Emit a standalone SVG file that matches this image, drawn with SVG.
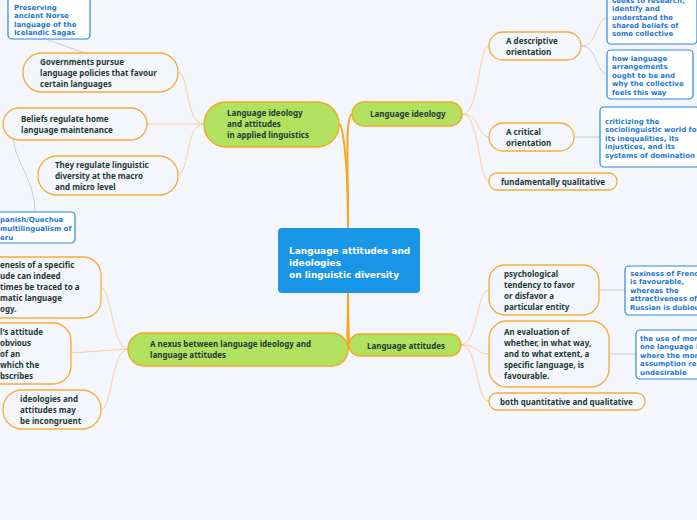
<svg xmlns="http://www.w3.org/2000/svg" width="697" height="520" viewBox="0 0 697 520">
<style>
.o{fill:#f4f6fd;stroke:#f8ab38;stroke-width:1.3}
.g{fill:#b2e05f;stroke:#f5a623;stroke-width:1.3}
.b{fill:#fff;stroke:#2a85e0;stroke-width:1.2}
.t{font-family:"Noto Sans","DejaVu Sans",sans-serif;font-size:8px;font-weight:bold;fill:#1c3b34}
.bt{font-family:"DejaVu Sans",sans-serif;font-size:7px;font-weight:bold;fill:#1f78d1}
.ct{font-family:"DejaVu Sans",sans-serif;font-size:9px;font-weight:bold;fill:#fff}
.m{fill:none;stroke:#f5a623;stroke-width:2}
.c{fill:none;stroke:#fbd095;stroke-width:1}
.gr{fill:none;stroke:#c9ccd6;stroke-width:1}
</style>
<rect width="697" height="520" fill="#f4f6fd"/>
<g id="connectors">
<path class="m" d="M348 228 C348 160 345 118 352 114"/>
<path class="m" d="M348 228 C348 160 343 126 339 124"/>
<path class="m" d="M348 293 C348 330 346 345 349 345"/>
<path class="m" d="M348 293 C348 330 350 349 348 349"/>
<path class="c" d="M204 124 C185 124 190 75 178 72"/>
<path class="c" d="M204 124 L147 124"/>
<path class="c" d="M204 124 C185 124 190 172 178 175"/>
<path class="c" d="M128 349 C112 349 112 290 101 287"/>
<path class="c" d="M128 349 L71 353"/>
<path class="c" d="M128 349 C112 349 112 408 101 410"/>
<path class="c" d="M462 114 C480 114 478 46 489 46"/>
<path class="c" d="M462 114 C480 114 478 137 489 137"/>
<path class="c" d="M462 114 C480 114 478 181 489 181"/>
<path class="c" d="M461 345 C478 345 476 290 489 290"/>
<path class="c" d="M461 345 C478 345 476 354 489 354"/>
<path class="c" d="M461 345 C478 345 476 401 489 401"/>
<path class="c" d="M581 46 C598 46 596 18 607 18"/>
<path class="gr" d="M581 46 C598 46 596 74 607 74"/>
<path class="gr" d="M574 137 L600 137"/>
<path class="gr" d="M599 290 L625 290"/>
<path class="gr" d="M609 354 L636 354"/>
<path class="gr" d="M48 40 L85 53"/>
<path class="gr" d="M14 140 C14 160 35 180 35 212"/>
</g>
<g id="center"><rect x="278" y="228" width="142" height="65" rx="4" fill="#1a96e8"/>
<text class="ct"><tspan x="289" y="254">Language attitudes and</tspan><tspan x="289" y="266">ideologies</tspan><tspan x="289" y="278">on linguistic diversity</tspan></text></g>
<g id="ideology"><rect class="g" x="352" y="102" width="110" height="24" rx="12"/><text class="t" x="370" y="117">Language ideology</text></g>
<g id="attitudes"><rect class="g" x="349" y="334" width="112" height="22" rx="11"/><text class="t" x="367" y="349">Language attitudes</text></g>
<g id="applied"><rect class="g" x="204" y="102" width="135" height="45" rx="22"/><text class="t"><tspan x="227" y="116">Language ideology</tspan><tspan x="227" y="127">and attitudes</tspan><tspan x="227" y="138">in applied linguistics</tspan></text></g>
<g id="nexus"><rect class="g" x="128" y="333" width="220" height="33" rx="16"/><text class="t"><tspan x="150" y="347">A nexus between language ideology and</tspan><tspan x="150" y="358">language attitudes</tspan></text></g>
<g id="gov"><rect class="o" x="23" y="53" width="155" height="39" rx="19"/><text class="t"><tspan x="40" y="65">Governments pursue</tspan><tspan x="40" y="76">language policies that favour</tspan><tspan x="40" y="87">certain languages</tspan></text></g>
<g id="beliefs"><rect class="o" x="3" y="108" width="144" height="32" rx="16"/><text class="t"><tspan x="21" y="122">Beliefs regulate home</tspan><tspan x="21" y="133">language maintenance</tspan></text></g>
<g id="regulate"><rect class="o" x="38" y="156" width="140" height="39" rx="19"/><text class="t"><tspan x="55" y="168">They regulate linguistic</tspan><tspan x="55" y="179">diversity at the macro</tspan><tspan x="55" y="190">and micro level</tspan></text></g>
<g id="norse"><rect class="b" x="8" y="-5" width="82" height="44" rx="4"/><text class="bt"><tspan x="14" y="10">Preserving</tspan><tspan x="14" y="18">ancient Norse</tspan><tspan x="14" y="27">language of the</tspan><tspan x="14" y="35">Icelandic Sagas</tspan></text></g>
<g id="peru"><rect class="b" x="-10" y="212" width="85" height="31" rx="4"/><text class="bt"><tspan x="0" y="222">panish/Quechua</tspan><tspan x="0" y="231">multilingualism of</tspan><tspan x="0" y="240">eru</tspan></text></g>
<g id="genesis"><rect class="o" x="-20" y="257" width="121" height="61" rx="18"/><text class="t"><tspan x="0" y="268">enesis of a specific</tspan><tspan x="0" y="279">ude can indeed</tspan><tspan x="0" y="290">times be traced to a</tspan><tspan x="0" y="301">matic language</tspan><tspan x="0" y="312">ogy.</tspan></text></g>
<g id="individual"><rect class="o" x="-20" y="323" width="91" height="61" rx="18"/><text class="t"><tspan x="0" y="335">l's attitude</tspan><tspan x="0" y="346">obvious</tspan><tspan x="0" y="357">of an</tspan><tspan x="0" y="368">which the</tspan><tspan x="0" y="379">bscribes</tspan></text></g>
<g id="incongruent"><rect class="o" x="3" y="390" width="98" height="39" rx="19"/><text class="t"><tspan x="20" y="402">ideologies and</tspan><tspan x="20" y="413">attitudes may</tspan><tspan x="20" y="424">be incongruent</tspan></text></g>
<g id="descriptive"><rect class="o" x="489" y="32" width="92" height="28" rx="14"/><text class="t"><tspan x="506" y="44">A descriptive</tspan><tspan x="506" y="55">orientation</tspan></text></g>
<g id="critical"><rect class="o" x="489" y="123" width="85" height="28" rx="14"/><text class="t"><tspan x="506" y="135">A critical</tspan><tspan x="506" y="146">orientation</tspan></text></g>
<g id="qual"><rect class="o" x="489" y="173" width="128" height="17" rx="8"/><text class="t" x="501" y="185">fundamentally qualitative</text></g>
<g id="seeks"><rect class="b" x="607" y="-5" width="90" height="49" rx="4"/><text class="bt"><tspan x="612" y="3">seeks to research,</tspan><tspan x="612" y="11">identify and</tspan><tspan x="612" y="20">understand the</tspan><tspan x="612" y="28">shared beliefs of</tspan><tspan x="612" y="36">some collective</tspan></text></g>
<g id="how"><rect class="b" x="607" y="50" width="86" height="49" rx="4"/><text class="bt"><tspan x="612" y="61">how language</tspan><tspan x="612" y="69">arrangements</tspan><tspan x="612" y="78">ought to be and</tspan><tspan x="612" y="86">why the collective</tspan><tspan x="612" y="95">feels this way</tspan></text></g>
<g id="criticizing"><rect class="b" x="600" y="107" width="100" height="60" rx="4"/><text class="bt"><tspan x="605" y="124">criticizing the</tspan><tspan x="605" y="132">sociolinguistic world for</tspan><tspan x="605" y="141">its inequalities, its</tspan><tspan x="605" y="149">injustices, and its</tspan><tspan x="605" y="158">systems of domination</tspan></text></g>
<g id="psych"><rect class="o" x="489" y="265" width="110" height="50" rx="16"/><text class="t"><tspan x="504" y="277">psychological</tspan><tspan x="504" y="288">tendency to favor</tspan><tspan x="504" y="299">or disfavor a</tspan><tspan x="504" y="310">particular entity</tspan></text></g>
<g id="evaluation"><rect class="o" x="489" y="321" width="120" height="66" rx="18"/><text class="t"><tspan x="504" y="335">An evaluation of</tspan><tspan x="504" y="346">whether, in what way,</tspan><tspan x="504" y="357">and to what extent, a</tspan><tspan x="504" y="368">specific language, is</tspan><tspan x="504" y="379">favourable.</tspan></text></g>
<g id="both"><rect class="o" x="489" y="393" width="156" height="17" rx="8"/><text class="t" x="500" y="405">both quantitative and qualitative</text></g>
<g id="sexiness"><rect class="b" x="625" y="266" width="80" height="49" rx="4"/><text class="bt"><tspan x="630" y="276">sexiness of French</tspan><tspan x="630" y="284">is favourable,</tspan><tspan x="630" y="293">whereas the</tspan><tspan x="630" y="301">attractiveness of</tspan><tspan x="630" y="310">Russian is dubious</tspan></text></g>
<g id="use"><rect class="b" x="636" y="330" width="70" height="49" rx="4"/><text class="bt"><tspan x="640" y="341">the use of more</tspan><tspan x="640" y="349">one language is</tspan><tspan x="640" y="358">where the mono</tspan><tspan x="640" y="366">assumption re</tspan><tspan x="640" y="375">undesirable</tspan></text></g>
</svg>
